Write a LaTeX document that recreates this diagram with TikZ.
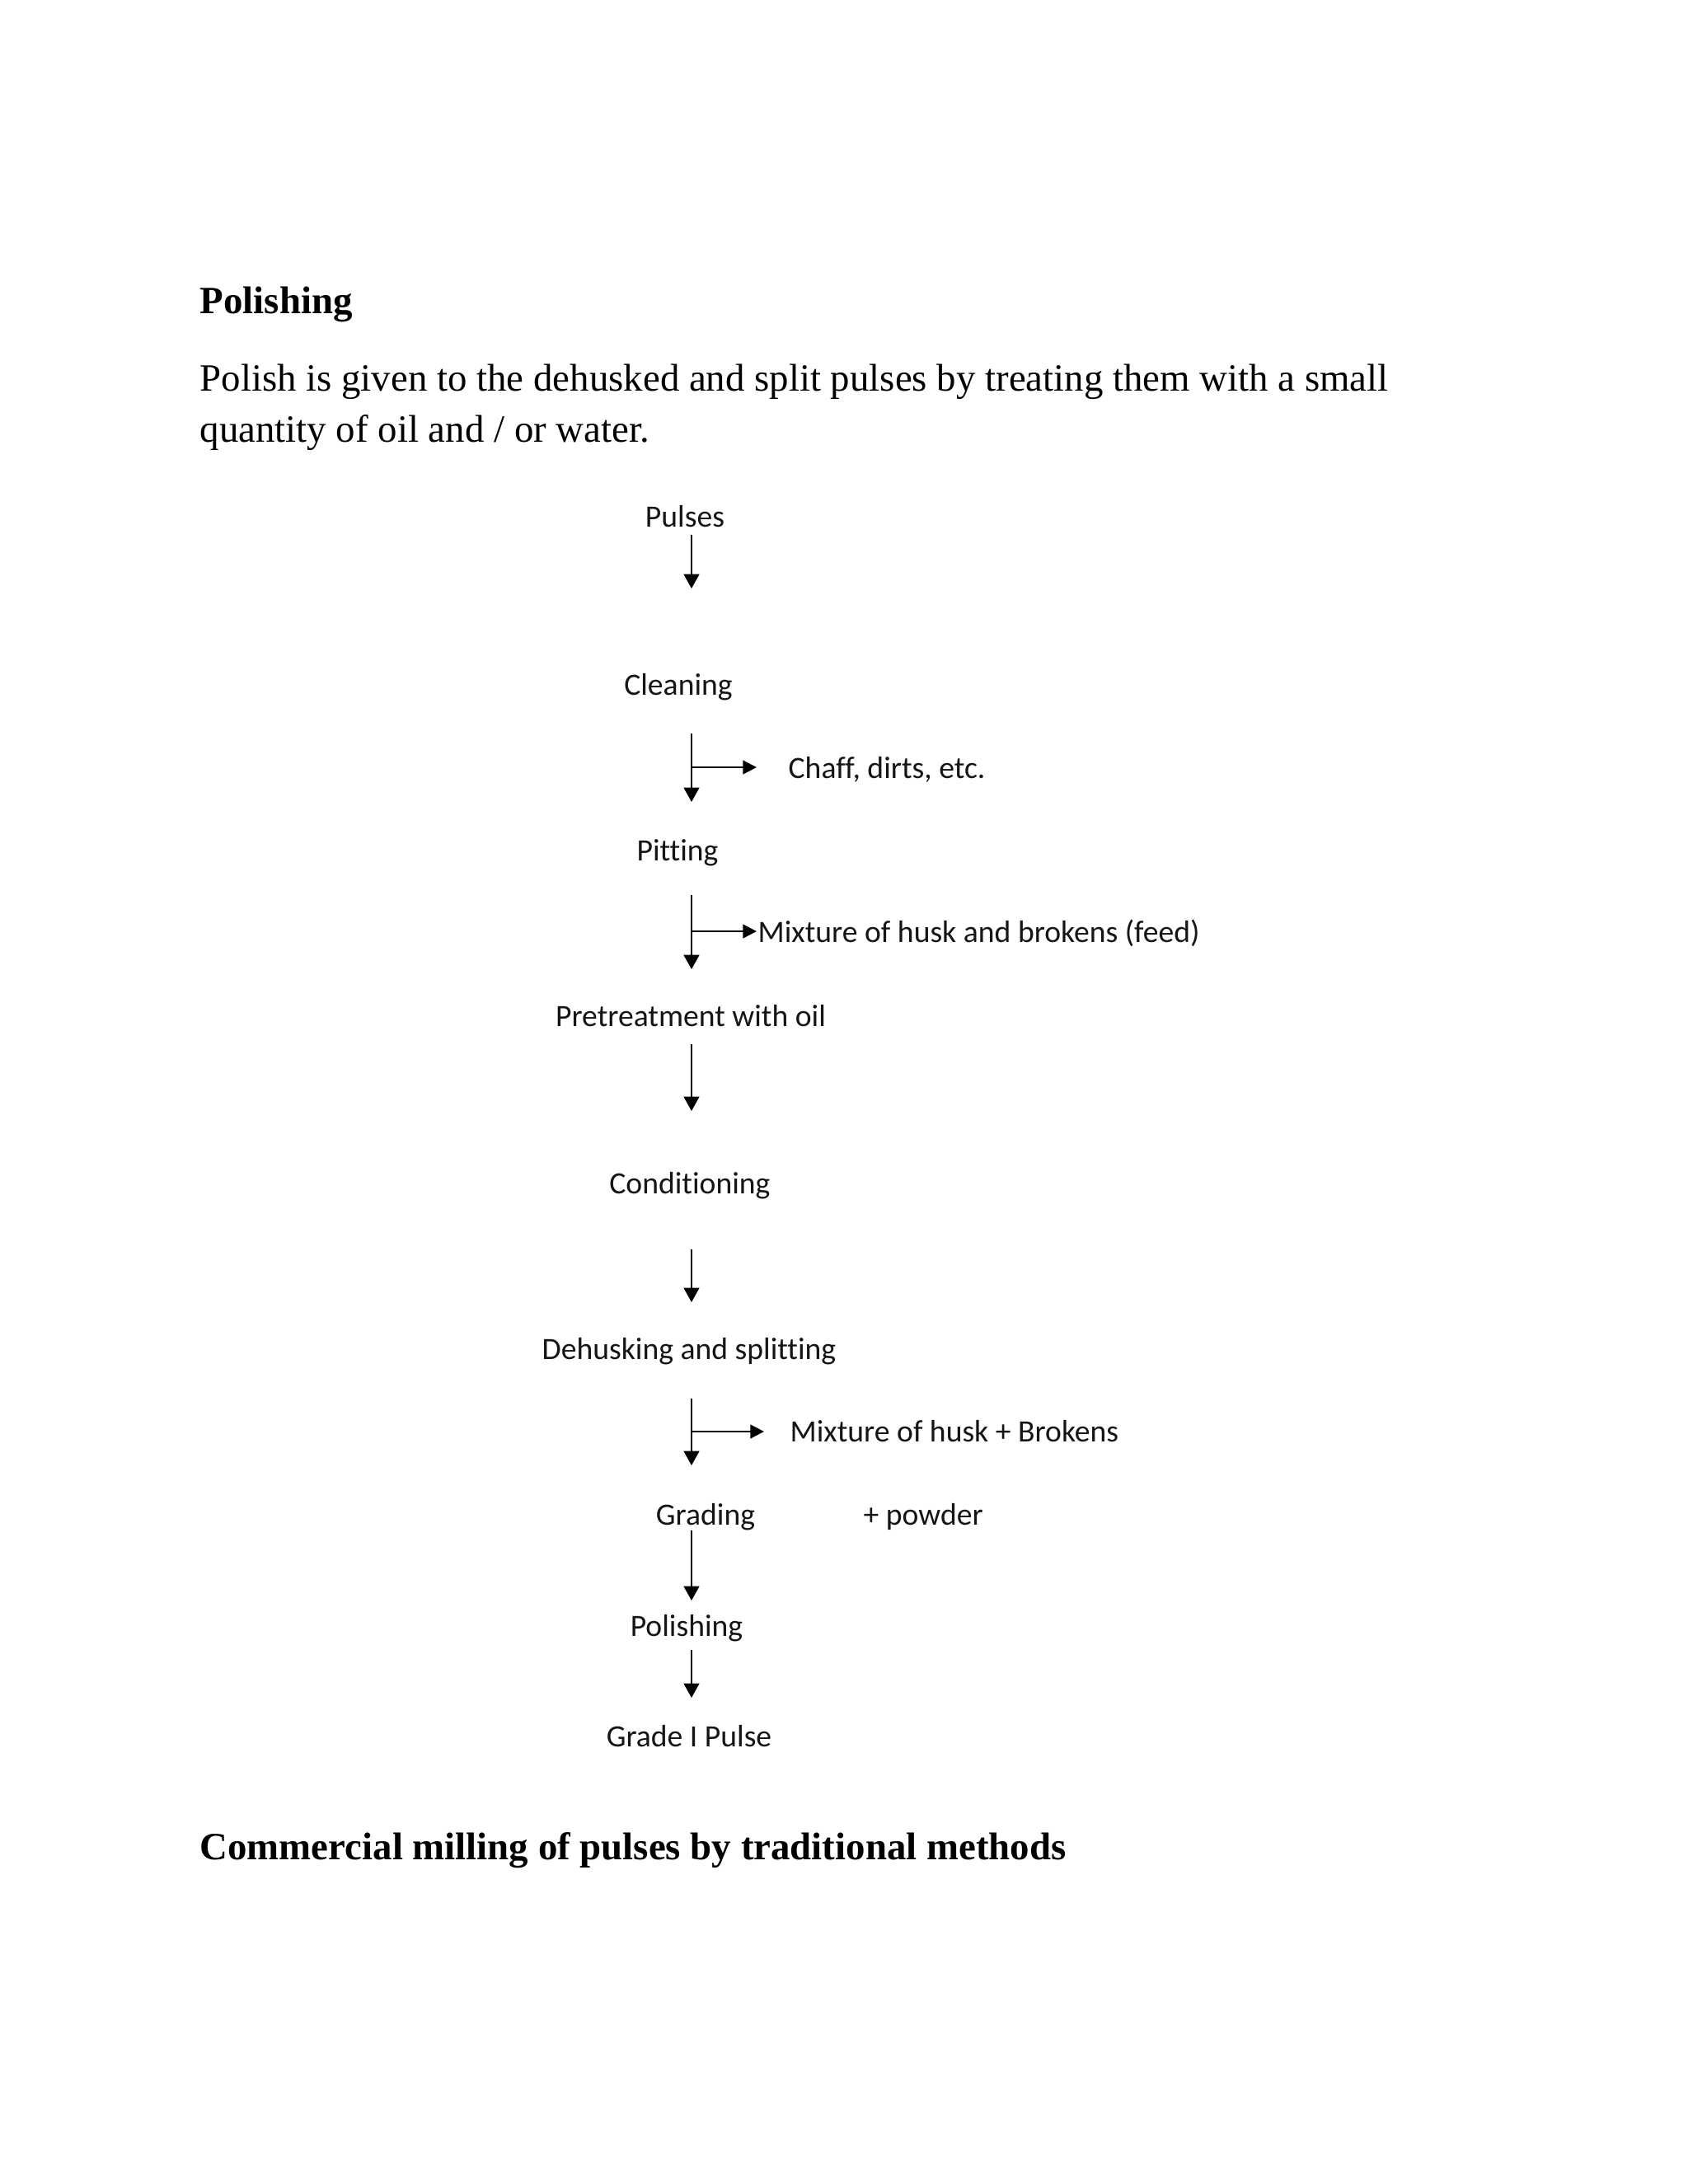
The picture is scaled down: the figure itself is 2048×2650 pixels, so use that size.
\documentclass[tikz,border=0pt]{standalone}
\usepackage{fontspec}
\setmainfont{Liberation Serif}
\newfontfamily\diagfont[Ligatures={NoCommon}]{Carlito}
\usetikzlibrary{arrows.meta}
\definecolor{diagtext}{HTML}{151515}
\tikzset{
  head/.style={anchor=base west, inner sep=0pt, font=\fontsize{14}{16}\selectfont\bfseries},
  body/.style={anchor=base west, inner sep=0pt, font=\fontsize{14}{16}\selectfont},
  stepnode/.style={anchor=base, inner sep=0pt, text=diagtext, font=\diagfont\fontsize{11.25}{13}\selectfont},
  sidenode/.style={anchor=base west, inner sep=0pt, text=diagtext, font=\diagfont\fontsize{11.25}{13}\selectfont},
  flow/.style={line width=0.7pt, -{Triangle[width=5.6pt,length=5.2pt]}},
  branch/.style={line width=0.7pt, -{Triangle[width=5pt,length=5pt]}}
}
\begin{document}
\begin{tikzpicture}[x=0.2988pt, y=-0.2988pt]
\useasboundingbox (0,0) rectangle (2048,2650);
% text
\node[head] (h1) at (242,380) {Polishing};
\node[body] (p1) at (242,474) {Polish is given to the dehusked and split pulses by treating them with a small};
\node[body] (p2) at (242,536) {quantity of oil and / or water.};
\node[head] (h2) at (242,2256) {Commercial milling of pulses by traditional methods};
% flow steps
\node[stepnode] (pulses)   at (831,639)  {Pulses};
\node[stepnode] (cleaning) at (823,843)  {Cleaning};
\node[stepnode] (pitting)  at (822,1044) {Pitting};
\node[stepnode] (pretreat) at (838,1245) {Pretreatment with oil};
\node[stepnode] (cond)     at (837,1448) {Conditioning};
\node[stepnode] (dehusk)   at (836,1649) {Dehusking and splitting};
\node[stepnode] (grading)  at (856,1850) {Grading};
\node[stepnode] (polish)   at (833,1985) {Polishing};
\node[stepnode] (grade)    at (836,2119) {Grade I Pulse};
% side outputs
\node[sidenode] (chaff)  at (956,944)  {Chaff, dirts, etc.};
\node[sidenode] (feed)   at (919,1143) {Mixture of husk and brokens (feed)};
\node[sidenode] (husk)   at (958,1749) {Mixture of husk + Brokens};
\node[sidenode] (powder) at (1047,1850) {+ powder};
% arrow coordinates
\coordinate (a1s) at (839,649);  \coordinate (a1e) at (839,714);
\coordinate (a2s) at (839,890);  \coordinate (a2e) at (839,973);
\coordinate (b2s) at (839,931);  \coordinate (b2e) at (918,931);
\coordinate (a3s) at (839,1086); \coordinate (a3e) at (839,1176);
\coordinate (b3s) at (839,1130); \coordinate (b3e) at (918,1130);
\coordinate (a4s) at (839,1267); \coordinate (a4e) at (839,1348);
\coordinate (a5s) at (839,1516); \coordinate (a5e) at (839,1580);
\coordinate (a6s) at (839,1697); \coordinate (a6e) at (839,1778);
\coordinate (b6s) at (839,1737); \coordinate (b6e) at (927,1737);
\coordinate (a7s) at (839,1857); \coordinate (a7e) at (839,1942);
\coordinate (a8s) at (839,2002); \coordinate (a8e) at (839,2060);
% arrows
\draw[flow] (a1s) -- (a1e);
\draw[flow] (a2s) -- (a2e);
\draw[branch] (b2s) -- (b2e);
\draw[flow] (a3s) -- (a3e);
\draw[branch] (b3s) -- (b3e);
\draw[flow] (a4s) -- (a4e);
\draw[flow] (a5s) -- (a5e);
\draw[flow] (a6s) -- (a6e);
\draw[branch] (b6s) -- (b6e);
\draw[flow] (a7s) -- (a7e);
\draw[flow] (a8s) -- (a8e);
\end{tikzpicture}
\end{document}
